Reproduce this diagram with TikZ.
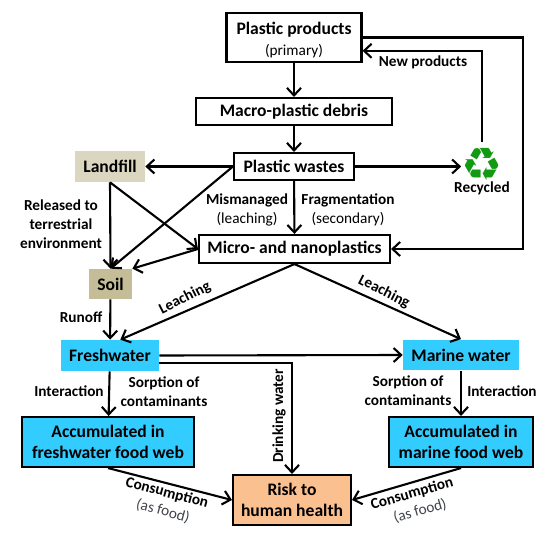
\documentclass[tikz,border=0pt]{standalone}
\usepackage{fontspec}
\setmainfont{Carlito}
\newfontfamily\symbolfont{DejaVu Sans}
\usetikzlibrary{arrows.meta,positioning}
\definecolor{landfilltan}{HTML}{DAD6C0}
\definecolor{soiltan}{HTML}{C4BD97}
\definecolor{waterblue}{HTML}{33CCFF}
\definecolor{riskorange}{HTML}{FAC090}
\definecolor{recyclegreen}{HTML}{129A12}
\definecolor{noteink}{HTML}{40444A}
\tikzset{
  flow/.style={black,line width=0.042cm,-{Straight Barb[length=1.5mm,width=2.8mm,line width=0.042cm]}},
  outlined/.style={draw=black,line width=0.042cm,fill=white,align=center,inner sep=0pt,font=\fontsize{10}{12.4}\selectfont\bfseries},
  tinted/.style={align=center,inner sep=0pt,font=\fontsize{10}{12.4}\selectfont\bfseries},
  tag/.style={align=center,inner sep=0pt,font=\fontsize{8.7}{10.8}\selectfont\bfseries},
  note/.style={align=center,inner sep=0pt,text=noteink,font=\fontsize{8.7}{10.8}\selectfont}
}
\begin{document}
\begin{tikzpicture}[x=0.02cm,y=-0.02cm]
  \useasboundingbox (0,0) rectangle (550,536);
  \node[outlined,minimum width=2.7cm,minimum height=0.98cm] (products) at (294,37.5) {\rule{0pt}{10pt}Plastic products\\[-0.5pt]{\fontsize{8.7}{10}\selectfont\mdseries (primary)}};
  \node[outlined,minimum width=3.92cm,minimum height=0.54cm] (macro) at (294,111.5) {Macro-plastic debris};
  \node[outlined,minimum width=2.4cm,minimum height=0.54cm] (wastes) at (294,166.5) {Plastic wastes};
  \node[outlined,minimum width=3.82cm,minimum height=0.56cm] (micro) at (294.5,249) {Micro- and nanoplastics};
  \node[tinted,fill=landfilltan,minimum width=1.4cm,minimum height=0.62cm] (landfill) at (110,166.5) {Landfill};
  \node[tinted,fill=soiltan,minimum width=0.86cm,minimum height=0.6cm] (soil) at (110.5,284) {Soil};
  \node[tinted,fill=waterblue,minimum width=1.96cm,minimum height=0.62cm] (fresh) at (110,355.5) {Freshwater};
  \node[tinted,fill=waterblue,minimum width=2.32cm,minimum height=0.62cm] (marine) at (461,355) {Marine water};
  \node[outlined,fill=waterblue,minimum width=3.44cm,minimum height=1cm] (foodfresh) at (108,442) {Accumulated in\\freshwater food web};
  \node[outlined,fill=waterblue,minimum width=2.88cm,minimum height=1cm] (foodmarine) at (461,442) {Accumulated in\\marine food web};
  \node[outlined,fill=riskorange,minimum width=2.36cm,minimum height=1cm] (risk) at (292,500) {Risk to\\human health};
  \node[inner sep=0pt,text=recyclegreen,font=\symbolfont\fontsize{26}{26}\selectfont] (icon) at (482,164) {♻};
  \node[tag] (recycled) at (482,188) {Recycled};
  \draw[flow] (products) -- (macro);
  \draw[flow] (macro) -- (wastes);
  \draw[flow] (wastes) -- (micro);
  \draw[flow] (wastes) -- (landfill);
  \draw[flow] (wastes.east) -- (wastes.east -| icon.west);
  \draw[flow] (wastes.west) -- (soil.north);
  \draw[flow] (landfill.south) -- (soil.north);
  \draw[flow] (landfill.south) -- (micro.west);
  \draw[flow] (micro.west) -- (soil.north east);
  \draw[flow] (micro.south) -- (fresh.57);
  \draw[flow] (micro.south) -- (marine.north);
  \draw[flow] (soil) -- (fresh);
  \draw[flow] (fresh) -- (foodfresh);
  \draw[flow] (fresh.east) -- (marine.west);
  \draw[flow] (marine) -- (foodmarine);
  \draw[flow] (fresh.-9) -| (risk.north);
  \draw[flow] (foodfresh.south) -- (risk.west);
  \draw[flow] (foodmarine.south) -- (risk.east);
  \coordinate (iconend) at (482,142);
  \draw[flow] (iconend) |- (products.-11);
  \coordinate (rightcorner) at (523,37.5);
  \draw[flow] (products.east) -- (rightcorner) |- (micro.east);
  \node[tag] at (423,62) {New products};
  \node[tag] at (348,210) {Fragmentation\\{\mdseries (secondary)}};
  \node[tag] at (247,210) {Mismanaged\\{\mdseries (leaching)}};
  \node[tag] at (61,224) {Released to\\terrestrial\\environment};
  \node[tag] at (81,317) {Runoff};
  \node[tag,rotate=27] at (185,298) {Leaching};
  \node[tag,rotate=-27] at (384,292) {Leaching};
  \node[tag] at (69,391) {Interaction};
  \node[tag] at (164,391.5) {Sorption of\\contaminants};
  \node[tag] at (408,390.5) {Sorption of\\contaminants};
  \node[tag] at (502,391) {Interaction};
  \node[tag,rotate=90] at (279,416) {Drinking water};
  \node[tag,rotate=-15] at (167,493) {Consumption};
  \node[note,rotate=-15] at (163,511) {(as food)};
  \node[tag,rotate=16] at (412,494) {Consumption};
  \node[note,rotate=16] at (420,511) {(as food)};
\end{tikzpicture}
\end{document}
